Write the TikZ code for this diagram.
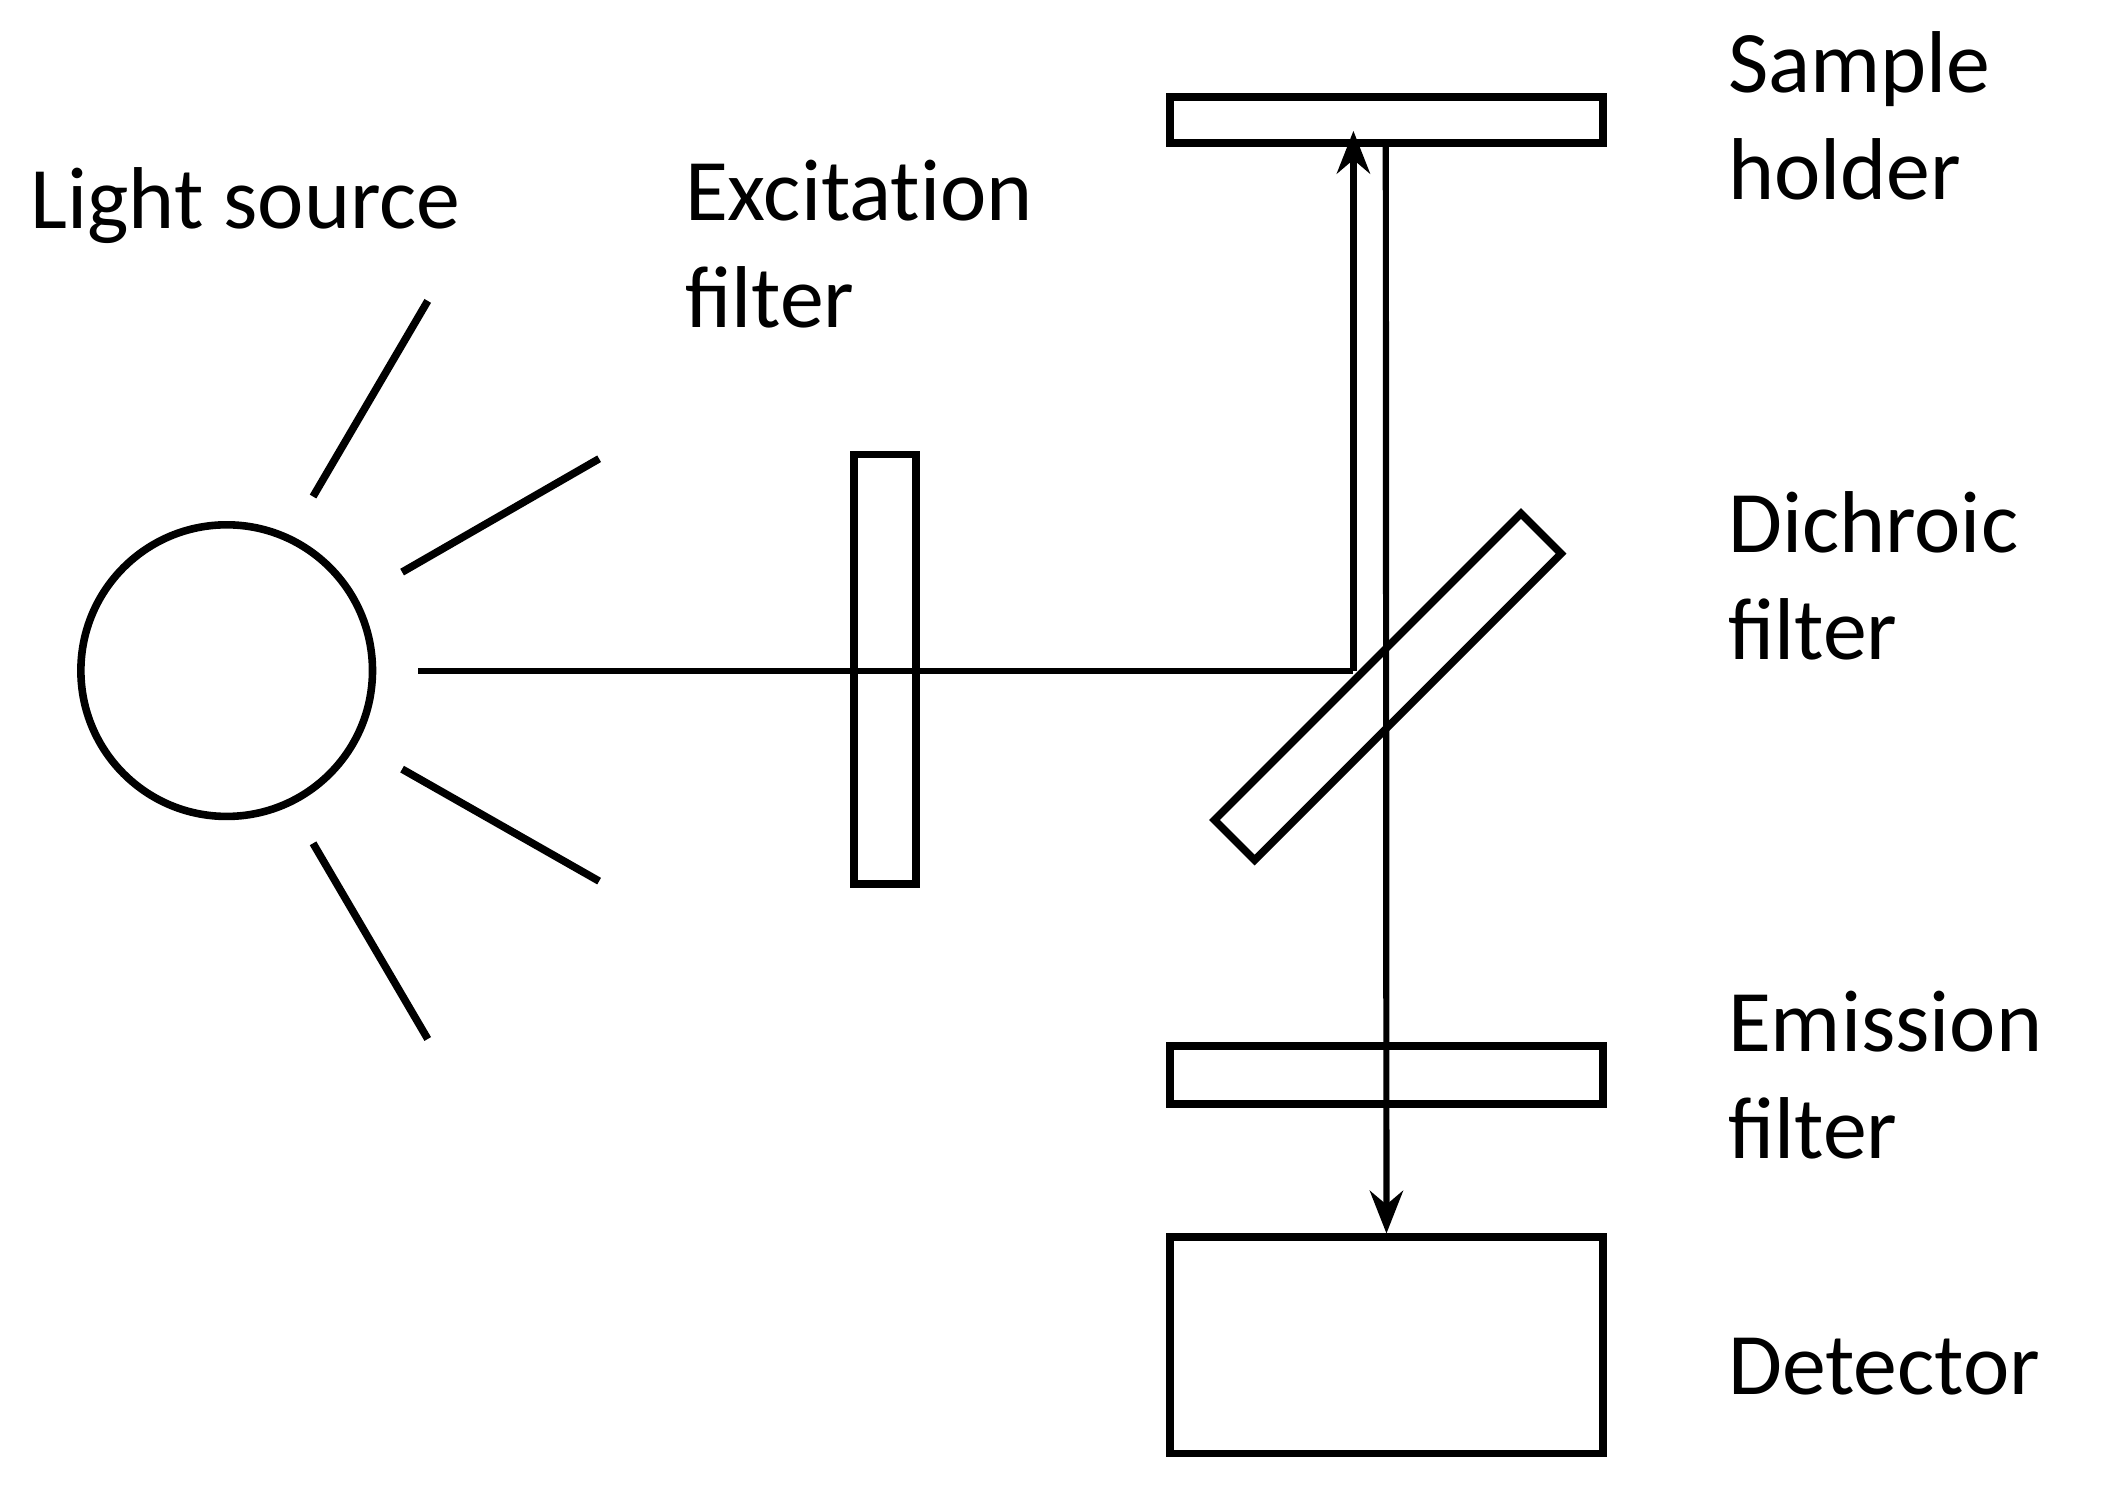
\documentclass[tikz,border=0pt]{standalone}
\usepackage{fontspec}
\setmainfont{Carlito}
\usetikzlibrary{arrows.meta}
\begin{document}
\begin{tikzpicture}[x=0.01cm,y=-0.01cm,
  part/.style={draw,line width=1.6pt},
  ray/.style={line width=1.6pt},
  beam/.style={line width=1.3pt},
  lbl/.style={anchor=west,align=left,inner sep=0pt,font=\fontsize{18.5}{22.5}\selectfont}]
\useasboundingbox (0,0) rectangle (1560,1101);
\node[part,circle,inner sep=0pt,minimum size=2.16cm] (src) at (168,497) {};
\coordinate (r1a) at (232,368); \coordinate (r1b) at (317,223);
\coordinate (r2a) at (298,424); \coordinate (r2b) at (444,340);
\coordinate (r3a) at (298,570); \coordinate (r3b) at (444,653);
\coordinate (r4a) at (232,625); \coordinate (r4b) at (317,770);
\draw[ray] (r1a)--(r1b); \draw[ray] (r2a)--(r2b);
\draw[ray] (r3a)--(r3b); \draw[ray] (r4a)--(r4b);
\node[part,minimum width=0.46cm,minimum height=3.18cm,inner sep=0pt] (exf) at (656,496) {};
\node[part,minimum width=3.21cm,minimum height=0.34cm,inner sep=0pt] (sh) at (1027.5,89) {};
\node[part,minimum width=3.21cm,minimum height=0.43cm,inner sep=0pt] (emf) at (1027.5,796.5) {};
\node[part,minimum width=3.21cm,minimum height=1.60cm,inner sep=0pt] (det) at (1027.5,997) {};
\node[part,minimum width=3.21cm,minimum height=0.42cm,inner sep=0pt,rotate=45] (dich) at (1028.5,509) {};
\coordinate (s) at (310,497);
\coordinate (turn) at (1003,497);
\coordinate (up) at (1003,97);
\coordinate (dtop) at (1027,106);
\draw[beam] (s)--(turn);
\draw[beam,-{Stealth[length=9pt,width=7pt]}] (turn)--(up);
\draw[beam,-{Stealth[length=9pt,width=7pt]}] (dtop)--(det.north);
\node[lbl] (l1) at (22,152) {Light source};
\node[lbl] (l2) at (507,181) {Excitat\kern0pt ion\\filter};
\node[lbl] (l3) at (1280,86) {Sample\\holder};
\node[lbl] (l4) at (1280,427) {Dichroic\\filter};
\node[lbl] (l5) at (1280,797) {Emission\\filter};
\node[lbl] (l6) at (1280,1013) {Detector};
\end{tikzpicture}
\end{document}
